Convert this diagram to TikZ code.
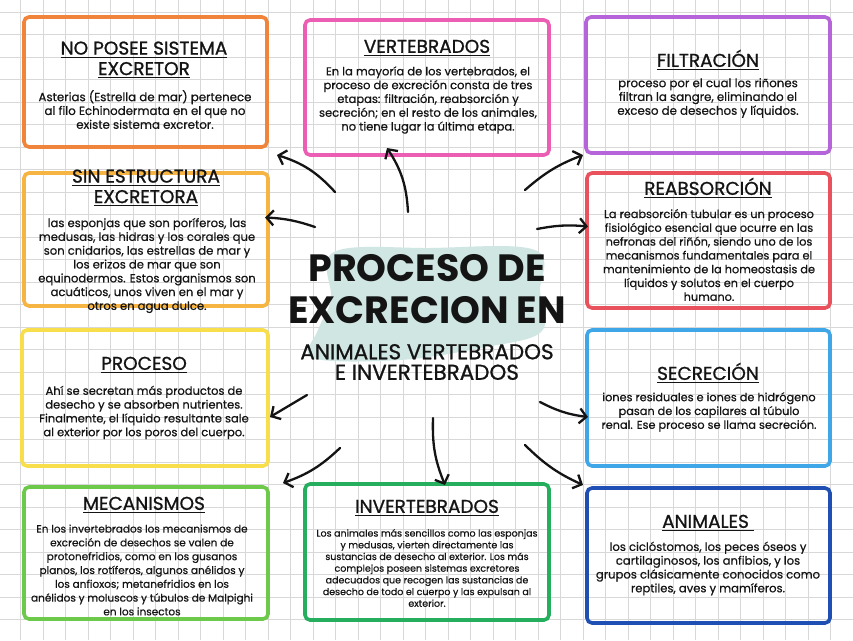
\documentclass[tikz,border=0pt]{standalone}
\usepackage{fontspec}
\setmainfont{Poppins}
\newfontfamily\medfont{Poppins}[FakeBold=0.6]
\newfontfamily\ttlfont{Poppins}[FakeBold=1.0]
\usetikzlibrary{arrows.meta}

\definecolor{cOrange}{HTML}{F0843A}
\definecolor{cPink}{HTML}{EC5DB4}
\definecolor{cPurple}{HTML}{B564DA}
\definecolor{cAmber}{HTML}{F6B443}
\definecolor{cRed}{HTML}{E9525C}
\definecolor{cYellow}{HTML}{F8DE4B}
\definecolor{cBlue}{HTML}{3FA6E8}
\definecolor{cLime}{HTML}{6DC94A}
\definecolor{cGreen}{HTML}{25AE5E}
\definecolor{cNavy}{HTML}{1F4FB2}
\definecolor{cTeal}{HTML}{CFE6E2}
\definecolor{cGrid}{HTML}{D8D8D8}
\definecolor{cInk}{HTML}{141414}

\newsavebox{\ttlbox}
\newcommand{\ttl}[1]{\sbox{\ttlbox}{#1}\rlap{\rule[-3.4pt]{\wd\ttlbox}{1.3pt}}\usebox{\ttlbox}}

\begin{document}
\begin{tikzpicture}[x=1pt,y=-1pt,
  box/.style={draw=#1, line width=3.6pt, rounded corners=5pt, inner sep=0pt, outer sep=0pt},
  ttlnode/.style={text=cInk, align=center, inner sep=0pt, font=\ttlfont\fontsize{18.5}{20.5}\selectfont},
  bodynode/.style={text=cInk, align=center, inner sep=0pt, font=\medfont\fontsize{#1}{13.8}\selectfont},
  arr/.style={draw=cInk, line width=2.3pt, line cap=round, -{Straight Barb[length=7pt,width=15pt,line width=2.3pt]}},
  gridline/.style={draw=cGrid, line width=0.6pt}]

\useasboundingbox[fill=white] (0,0) rectangle (853,640);

% grid
\foreach \gx in {-2,20.5,...,860} \draw[gridline] (\gx,0) -- (\gx,640);
\foreach \gy in {12,34.5,...,645} \draw[gridline] (0,\gy) -- (853,\gy);

% highlight blob
\fill[cTeal] plot[smooth cycle, tension=0.6] coordinates {(334,252) (430,248) (535,250) (540,292) (541,332) (480,348) (400,360) (313,358) (318,330) (331,300)};

% boxes
\node[box=cOrange, minimum width=243pt, minimum height=130pt] (b1) at (145.5,82) {};
\node[box=cPink,   minimum width=244pt, minimum height=135pt] (b2) at (427,87.5) {};
\node[box=cPurple, minimum width=244pt, minimum height=136pt] (b3) at (708,85) {};
\node[box=cAmber,  minimum width=244pt, minimum height=133pt] (b4) at (146,239.5) {};
\node[box=cRed,    minimum width=243pt, minimum height=135pt] (b5) at (708.5,240.5) {};
\node[box=cYellow, minimum width=246pt, minimum height=136pt] (b6) at (145,398) {};
\node[box=cBlue,   minimum width=243pt, minimum height=136pt] (b7) at (708.5,398) {};
\node[box=cLime,   minimum width=244pt, minimum height=132pt] (b8) at (146,553) {};
\node[box=cGreen,  minimum width=244pt, minimum height=136pt] (b9) at (427,552) {};
\node[box=cNavy,   minimum width=243pt, minimum height=135pt] (b10) at (708.5,555.5) {};

% titles
\node[ttlnode] (t1) at (144,60) {\ttl{NO POSEE SISTEMA}\\\ttl{EXCRETOR}};
\node[ttlnode] (t2) at (427,48) {\ttl{VERTEBRADOS}};
\node[ttlnode] (t3) at (708,60) {\ttl{FILTRACIÓN}};
\node[ttlnode] (t4) at (146,188) {\ttl{SIN ESTRUCTURA}\\\ttl{EXCRETORA}};
\node[ttlnode] (t5) at (708,188) {\ttl{REABSORCIÓN}};
\node[ttlnode] (t6) at (144,365) {\ttl{PROCESO}};
\node[ttlnode] (t7) at (708,373) {\ttl{SECRECIÓN}};
\node[ttlnode] (t8) at (144,505) {\ttl{MECANISMOS}};
\node[ttlnode] (t9) at (427,508) {\ttl{INVERTEBRADOS}};
\node[ttlnode] (t10) at (708,523) {\ttl{ANIMALES\ }};

% bodies
\node[bodynode=11.8] (d1) at (145,109.5) {Asterias (Estrella de mar) pertenece\\al filo Echinodermata en el que no\\existe sistema excretor.};
\node[bodynode=11.5] (d2) at (428,100) {En la mayoría de los vertebrados, el\\proceso de excreción consta de tres\\etapas: filtración, reabsorción y\\secreción; en el resto de los animales,\\no tiene lugar la última etapa.};
\node[bodynode=11.8] (d3) at (708,98) {proceso por el cual los riñones\\filtran la sangre, eliminando el\\exceso de desechos y líquidos.};
\node[bodynode=11.6] (d4) at (147,265.5) {las esponjas que son poríferos, las\\medusas, las hidras y los corales que\\son cnidarios, las estrellas de mar y\\los erizos de mar que son\\equinodermos. Estos organismos son\\acuáticos, unos viven en el mar y\\otros en agua dulce.};
\node[bodynode=11.3] (d5) at (709,255) {La reabsorción tubular es un proceso\\fisiológico esencial que ocurre en las\\nefronas del riñón, siendo uno de los\\mecanismos fundamentales para el\\mantenimiento de la homeostasis de\\líquidos y solutos en el cuerpo\\humano.};
\node[bodynode=11.5] (d6) at (144,412.5) {Ahí se secretan más productos de\\desecho y se absorben nutrientes.\\Finalmente, el líquido resultante sale\\al exterior por los poros del cuerpo.};
\node[bodynode=11.3] (d7) at (709,412) {iones residuales e iones de hidrógeno\\pasan de los capilares al túbulo\\renal. Ese proceso se llama secreción.};
\node[bodynode=10.5] (d8) at (142,570) {En los invertebrados los mecanismos de\\excreción de desechos se valen de\\protonefridios, como en los gusanos\\planos, los rotíferos, algunos anélidos y\\los anfioxos; metanefridios en los\\anélidos y moluscos y túbulos de Malpighi\\en los insectos};
\node[bodynode=9.5, font=\medfont\fontsize{9.5}{11.7}\selectfont] (d9) at (427,568) {Los animales más sencillos como las esponjas\\y medusas, vierten directamente las\\sustancias de desecho al exterior. Los más\\complejos poseen sistemas excretores\\adecuados que recogen las sustancias de\\desecho de todo el cuerpo y las expulsan al\\exterior.};
\node[bodynode=11.6] (d10) at (708,568.5) {los ciclóstomos, los peces óseos y\\cartilaginosos, los anfibios, y los\\grupos clásicamente conocidos como\\reptiles, aves y mamíferos.};

% centre
\node[text=cInk, align=center, inner sep=0pt, font=\fontsize{38}{42}\selectfont\bfseries] (c1) at (427,289) {PROCESO DE\\EXCRECION EN};
\node[text=cInk, align=center, inner sep=0pt, font=\ttlfont\fontsize{21.5}{20.5}\selectfont] (c2) at (427,362) {ANIMALES VERTEBRADOS\\E INVERTEBRADOS};

% arrow starts
\coordinate (s1) at (335,192);
\coordinate (s2) at (408,212);
\coordinate (s3) at (525,190);
\coordinate (s4) at (315,227);
\coordinate (s5) at (537,229);
\coordinate (s6) at (307,395);
\coordinate (s7) at (540,402);
\coordinate (s8) at (340,448);
\coordinate (s9) at (433,418);
\coordinate (s10) at (525,445);

\draw[arr] (s1) to[bend right=15] ([shift={(10,8)}]b1.south east);
\draw[arr] (s2) to[bend right=15] ([shift={(-40,-7)}]b2.south);
\draw[arr] (s3) to[bend left=10] ([shift={(-3,2)}]b3.south west);
\draw[arr] (s4) to[bend right=8] ([shift={(-3,-22)}]b4.east);
\draw[arr] (s5) to[bend left=8] ([shift={(1,-14)}]b5.west);
\draw[arr] (s6) to ([shift={(2,19)}]b6.east);
\draw[arr] (s7) to[bend right=10] ([shift={(1,19)}]b7.west);
\draw[arr] (s8) to[bend left=12] ([shift={(15,-4)}]b8.north east);
\draw[arr] (s9) to[bend right=12] ([shift={(18,1)}]b9.north);
\draw[arr] (s10) to[bend right=10] ([shift={(-4,-3)}]b10.north west);
\end{tikzpicture}
\end{document}
